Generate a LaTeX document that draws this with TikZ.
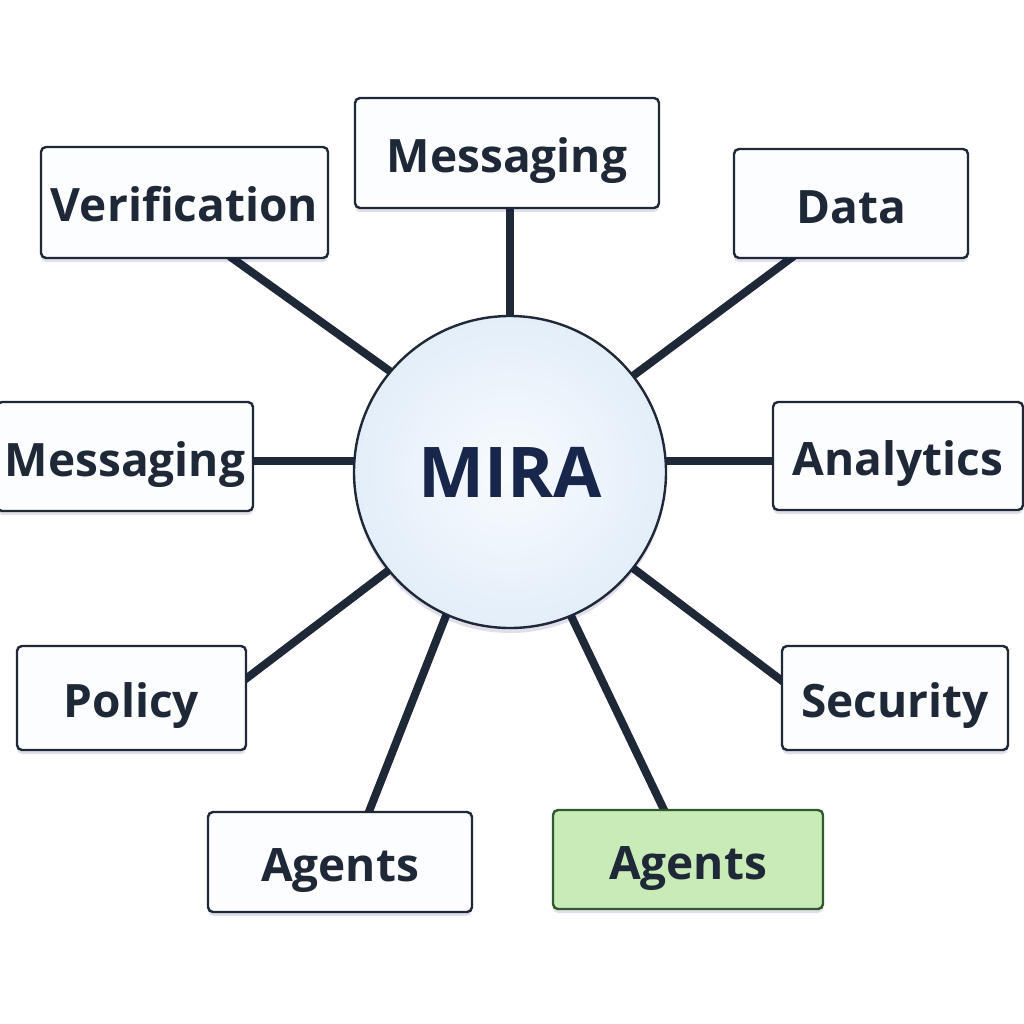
\documentclass[tikz,border=0pt]{standalone}
\usepackage{fontspec}
\setmainfont{Open Sans}
\usetikzlibrary{calc,shadows,backgrounds}
\definecolor{ink}{HTML}{1E2836}
\definecolor{navy}{HTML}{17264A}
\definecolor{circin}{HTML}{F8FBFE}
\definecolor{circout}{HTML}{E3EEF9}
\definecolor{greenfill}{HTML}{C9EBB7}
\definecolor{greenline}{HTML}{2F5A2B}
\definecolor{boxfill}{HTML}{FCFDFF}
\begin{document}
\begin{tikzpicture}[x=1pt,y=-1pt,
  box/.style={draw=ink,line width=2.4pt,rounded corners=5pt,fill=boxfill,
    inner sep=0pt,font=\fontsize{46}{50}\selectfont\bfseries,text=ink,
    text height=44pt,text depth=5pt,
    drop shadow={opacity=0.12,shadow xshift=0pt,shadow yshift=-4pt,fill=blue!40!black}},
  conn/.style={draw=ink,line width=8pt,shorten <=-5pt,shorten >=-5pt}]
\useasboundingbox (0,0) rectangle (1024,1024);
\node[box,minimum width=304pt,minimum height=110pt] (msgT) at (507,153) {Messaging};
\node[box,minimum width=287pt,minimum height=111pt] (ver) at (184.5,202.5) {Verification};
\node[box,minimum width=234pt,minimum height=109pt] (dat) at (851,203.5) {Data};
\node[box,minimum width=256pt,minimum height=109pt] (msgL) at (125,456.5) {Messaging};
\node[box,minimum width=250pt,minimum height=108pt] (ana) at (898,456) {Analytics};
\node[box,minimum width=229pt,minimum height=104pt] (pol) at (131.5,698) {Policy};
\node[box,minimum width=226pt,minimum height=104pt] (sec) at (895,698) {Security};
\node[box,minimum width=264pt,minimum height=100pt] (agL) at (340,862) {Agents};
\node[box,minimum width=270pt,minimum height=99pt,fill=greenfill,draw=greenline] (agR) at (688,859.5) {Agents};
\node[circle,draw=ink,line width=2.4pt,inner color=circin,outer color=circout,
  minimum size=312pt,inner sep=0pt,text=navy,
  font=\fontsize{70}{74}\selectfont\bfseries,
  drop shadow={opacity=0.12,shadow xshift=0pt,shadow yshift=-5pt,fill=blue!40!black}] (c) at (510,472) {MIRA};
\begin{pgfonlayer}{background}
\fill[white] (0,0) rectangle (1024,1024);
\draw[conn] (c.90) -- (c.90 |- msgT.south);
\draw[conn] (c.140.5) -- ($(ver.south west)!0.67!(ver.south east)$);
\draw[conn] (c.38) -- ($(dat.south west)!0.24!(dat.south east)$);
\draw[conn] (c.176) -- (c.176 -| msgL.east);
\draw[conn] (c.4) -- (c.4 -| ana.west);
\draw[conn] (c.219.5) -- ($(pol.north east)!0.31!(pol.south east)$);
\draw[conn] (c.-38) -- ($(sec.north west)!0.33!(sec.south west)$);
\draw[conn] (c.246.8) -- ($(agL.north west)!0.61!(agL.north east)$);
\draw[conn] (c.-67.5) -- ($(agR.north west)!0.41!(agR.north east)$);
\end{pgfonlayer}
\end{tikzpicture}
\end{document}
